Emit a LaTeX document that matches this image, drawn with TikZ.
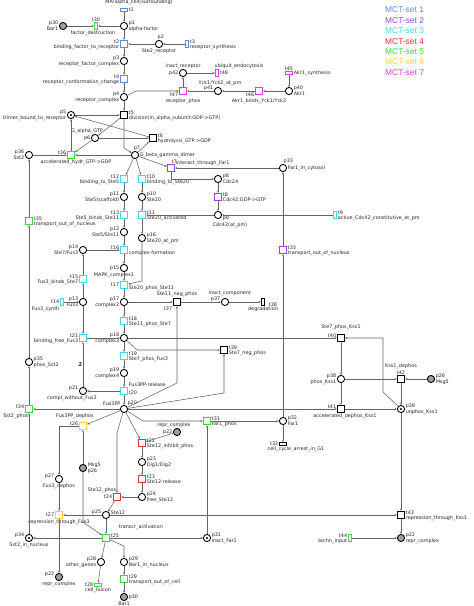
\documentclass[tikz,border=0pt]{standalone}
\usepackage{fontspec}
\setmainfont{DejaVu Sans}
\newfontfamily\legendfont{Liberation Sans}
\usetikzlibrary{arrows.meta}

\definecolor{mctA}{RGB}{90,140,235}
\definecolor{mctB}{RGB}{150,70,220}
\definecolor{mctC}{RGB}{60,220,230}
\definecolor{mctD}{RGB}{235,50,50}
\definecolor{mctE}{RGB}{60,215,60}
\definecolor{mctF}{RGB}{245,210,60}
\definecolor{mctG}{RGB}{225,60,225}
\definecolor{arcgray}{RGB}{100,100,100}

\tikzset{
  lb/.style={font=\fontsize{4.9}{5.5}\selectfont, inner sep=0.5pt, text=black!85},
  labNE/.style={label={[lb,anchor=south west]0:{#1}}},
  labSE/.style={label={[lb,anchor=north west]0:{#1}}},
  labNW/.style={label={[lb,anchor=south east]180:{#1}}},
  labSW/.style={label={[lb,anchor=north east]180:{#1}}},
  labN/.style={label={[lb,anchor=south]90:{#1}}},
  labS/.style={label={[lb,anchor=north]270:{#1}}},
  labE/.style={label={[lb,anchor=west]0:{#1}}},
  labW/.style={label={[lb,anchor=east]180:{#1}}},
  place/.style={circle, draw=black, line width=0.9pt, fill=white, minimum size=7.2pt, inner sep=0pt},
  pgrey/.style={place, fill=gray!75},
  ptok/.style={place, path picture={\fill[black] (path picture bounding box.center) circle (1.1pt);}},
  trans/.style={rectangle, draw=#1, line width=0.9pt, fill=white, minimum size=7.4pt, inner sep=0pt},
  transv/.style={trans=#1, minimum width=3.4pt, minimum height=7.2pt},
  transh/.style={trans=#1, minimum width=7.2pt, minimum height=3.4pt},
  arc/.style={draw=arcgray, line width=0.55pt, -{Stealth[length=2.4pt,width=2pt]}},
  legend/.style={font=\legendfont\fontsize{8.4}{9}\selectfont, anchor=west, inner sep=0pt},
}

\begin{document}
\begin{tikzpicture}[x=1pt,y=-1pt]
  \useasboundingbox (0,0) rectangle (474,606);

  % places
  \node[pgrey, labNW=p30, labSW=Bar1] (p30a) at (63,26) {};
  \node[place, labNE=p1, labSE=alpha-factor] (p1) at (124,26) {};
  \node[place, label={[lb,anchor=south west,xshift=-2pt]90:p2}, labS=Ste2\_receptor] (p2) at (159,44) {};
  \node[place, labNW=p3, labSW=receptor\_factor\_complex] (p3) at (124,61) {};
  \node[place, labNW=p4, labSW=receptor\_complex] (p4) at (124,97) {};
  \node[place, labN=inact\_receptor, labW=p42] (p42) at (183,73) {};
  \node[place, label={[lb,anchor=south,xshift=2pt,yshift=1pt]90:Yck1/Yck2\_at\_pm}, labNW=p41] (p41) at (218,91) {};
  \node[place, labNE=p40, labSE=Akr1] (p40) at (289,91) {};
  \node[ptok, labNW=p5, labSW=trimer\_bound\_to\_receptor] (p5) at (71,115) {};
  \node[place, label={[lb,anchor=south,xshift=-8pt]90:G\_alpha\_GTP}, labW=p6] (p6) at (95,138) {};
  \node[place, labNW=p36, labSW=Sst2] (p36) at (29,155) {};
  \node[place, label={[lb,anchor=south,xshift=2pt]90:p7}, labE=G\_beta\_gamma\_dimer] (p7) at (135,155) {};
  \node[place, labNE=p8, labSE=Cdc24] (p8) at (218,179) {};
  \node[place, labNW=p11, labSW=Ste5(scaffold)] (p11) at (124,197) {};
  \node[place, labNE=p10, labSE=Ste20] (p10) at (142,197) {};
  \node[place, label={[lb,anchor=south west]90:p33}, labE=Far1\_in\_cytosol] (p33) at (283,168) {};
  \node[place, labSE=p9, label={[lb,anchor=north,xshift=12pt,yshift=-3pt]270:Cdc42(at\_pm)}] (p9) at (218,215) {};
  \node[place, labNW=p12, labSW=Ste5/Ste11] (p12) at (124,232) {};
  \node[place, labNE=p16, labSE=Ste20\_at\_pm] (p16) at (142,238) {};
  \node[place, labNW=p14, labSW=Ste7/Fus3] (p14) at (83,250) {};
  \node[place, labW=p15, label={[lb,anchor=north,xshift=-10pt]270:MAPK\_complex1}] (p15) at (124,268) {};
  \node[place, labNW=p13, labSW=Fus3] (p13) at (83,302) {};
  \node[place, labNW=p17, labSW=complex2] (p17) at (124,302) {};
  \node[place, label={[lb,anchor=south west,xshift=-17pt,yshift=1.5pt]90:inact\_component}, labNW=p37] (p37) at (225,302) {};
  \node[place, labNW=p18, labSW=complex3] (p18) at (124,338) {};
  \node[place, labNE=p35, labSE=phos\_Sst2] (p35) at (29,362) {};
  \node[place, labNW=p19, labSW=complex4] (p19) at (124,373) {};
  \node[place, labNW=p21, label={[lb,anchor=north,xshift=-11pt]270:compl\_without\_Fus3}] (p21) at (83,391) {};
  \node[place, label={[lb,anchor=south east]135:Fus3PP}, label={[lb,anchor=south west]45:p20}] (p20) at (124,409) {};
  \node[place, labNW=p38, labSW=phos\_Kss1] (p38) at (341,379) {};
  \node[pgrey, labNE=p26, labSE=Msg5] (p26a) at (431,379) {};
  \node[ptok, labNE=p39, labSE=unphos\_Kss1] (p39) at (401,409) {};
  \node[place, labNE=p32, labSE=Far1] (p32) at (283,421) {};
  \node[pgrey, label={[lb,anchor=south,xshift=-3pt]90:repr\_complex}, labW=p22] (p22a) at (177,432) {};
  \node[place, labNE=p23, labSE=Dig1/Dig2] (p23) at (142,462) {};
  \node[pgrey, labNE=Msg5, labSE=p26] (p26b) at (83,468) {};
  \node[place, labNW=p27, labS=Fus3\_dephos] (p27) at (59,479) {};
  \node[place, labNE=p24, labSE=free\_Ste12] (p24) at (142,497) {};
  \node[place, labNW=p25, labNE=Ste12] (p25) at (106,515) {};
  \node[ptok, labNW=p34, labS=Sst2\_in\_nucleus] (p34) at (29,538) {};
  \node[ptok, labNE=p31, labSE=inact\_Far1] (p31) at (207,538) {};
  \node[pgrey, labNE=p22, labSE=repr\_complex] (p22b) at (401,538) {};
  \node[place, labNW=p28, labSW=other\_genes] (p28) at (101,562) {};
  \node[place, labNE=p29, labSE=Bar1\_in\_nucleus] (p29) at (124,562) {};
  \node[pgrey, labNW=p22, labS=repr\_complex] (p22c) at (59,577) {};
  \node[pgrey, labE=p30, labS=Bar1] (p30b) at (124,597) {};

  % transitions
  \node[transh=mctA, labE=t1, label={[lb,anchor=south,xshift=15pt,yshift=2pt]90:MA!alpha\_cell(surrounding)}] (t1) at (124,10) {};
  \node[transv=mctE, labN=t30, label={[lb,anchor=north,xshift=-3pt]270:factor\_destruction}] (t30) at (96,26) {};
  \node[trans=mctA, labNW=t2, labSW=binding\_factor\_to\_receptor] (t2) at (124,44) {};
  \node[transv=mctA, labNE=t3, labSE=receptor\_synthesis] (t3) at (187,44) {};
  \node[trans=mctA, labNW=t4, labSW=receptor\_conformation\_change] (t4) at (124,79) {};
  \node[transv=mctG, label={[lb,anchor=south west,xshift=-3pt]90:ubiquit\_endocytosis}, labE=t48] (t48) at (217,73) {};
  \node[trans=mctG, label={[lb,anchor=east]225:t47}, label={[lb,anchor=north,yshift=-2.5pt]270:receptor\_phos}] (t47) at (183,91) {};
  \node[transh=mctG, labN=t45, labE=Akr1\_synthesis] (t45) at (289,73) {};
  \node[trans=mctG, label={[lb,anchor=east]225:t46}, label={[lb,anchor=north,yshift=-2.5pt]270:Akr1\_binds\_Yck1/Yck2}] (t46) at (259,91) {};
  \node[trans=black, labNE=t5, labSE=division(in\_alpha\_subunit:GDP->GTP)] (t5) at (124,115) {};
  \node[trans=black, labNE=t6, labSE=hydrolysis\_GTP->GDP] (t6) at (153,138) {};
  \node[trans=mctE, labNW=t36, label={[lb,anchor=north west,xshift=-31pt]270:accelerated\_hydr\_GTP->GDP}] (t36) at (71,155) {};
  \node[trans=mctB, label={[lb,anchor=south west]90:t7}, label={[lb,anchor=south west,yshift=2pt]0:interact\_through\_Far1}] (t7) at (171,168) {};
  \node[trans=mctC, labNW=t12, labSW=binding\_to\_Ste5] (t12) at (124,179) {};
  \node[trans=mctC, labNE=t10, labSE=binding\_to\_Ste20] (t10) at (142,179) {};
  \node[trans=mctB, labNE=t8, labSE=Cdc42:GDP->GTP] (t8) at (218,197) {};
  \node[trans=mctC, labNW=t13, labSW=Ste5\_binds\_Ste11] (t13) at (124,215) {};
  \node[trans=mctC, labNE=t11, labSE=Ste20\_activated] (t11) at (142,215) {};
  \node[transv=mctC, labNE=t9, labSE=active\_Cdc42\_constitutive\_at\_pm] (t9) at (335,215) {};
  \node[trans=mctE, labNE=t35, labSE=transport\_out\_of\_nucleus] (t35) at (29,221) {};
  \node[trans=mctC, labNW=t16, labSE=complex-formation] (t16) at (124,250) {};
  \node[trans=mctB, labNE=t33, labSE=transport\_out\_of\_nucleus] (t33) at (283,250) {};
  \node[trans=mctC, labNW=t15, labSW=Fus3\_binds\_Ste7] (t15) at (83,279) {};
  \node[trans=mctC, labW=t17, labSE=Ste20\_phos\_Ste11] (t17) at (124,285) {};
  \node[transv=mctC, labW=t14, label={[lb,anchor=north east,xshift=-2pt]270:Fus3\_synth}] (t14) at (62,302) {};
  \node[trans=black, labN=Ste11\_neg\_phos, label={[lb,anchor=north east]225:t37}] (t37) at (177,302) {};
  \node[transv=black, label={[lb,anchor=north west,xshift=3pt]0:t38}, labS=degradation] (t38) at (263,302) {};
  \node[trans=mctC, labNE=t18, labSE=Ste11\_phos\_Ste7] (t18) at (124,321) {};
  \node[trans=mctC, labNW=t21, labSW=binding\_free\_Fus3] (t21) at (83,338) {};
  \node[trans=mctC, labNE=t19, labSE=Ste7\_phos\_Fus3] (t19) at (124,356) {};
  \node[trans=black, labNE=t39, labSE=Ste7\_neg\_phos] (t39) at (224,350) {};
  \node[trans=black, label={[lb,anchor=south,yshift=4pt]90:Ste7\_phos\_Kss1}, labNW=t40] (t40) at (341,338) {};
  \node[trans=mctC, label={[lb,anchor=south west,yshift=4pt]0:Fus3PP-release}, label={[lb,anchor=north west,yshift=1pt]0:t20}] (t20) at (124,391) {};
  \node[trans=black, label={[lb,anchor=south,yshift=6pt]90:Kss1\_dephos}, labN=t42] (t42) at (401,379) {};
  \node[trans=black, labNW=t41, label={[lb,anchor=north,xshift=4pt]270:accelerated\_dephos\_Kss1}] (t41) at (341,409) {};
  \node[trans=mctE, labNW=t34, label={[lb,anchor=north east]270:Sst2\_phos}] (t34) at (29,409) {};
  \node[trans=mctE, labNE=t31, labSE=Far1\_phos] (t31) at (207,421) {};
  \node[trans=mctF, label={[lb,anchor=south,xshift=-8pt,yshift=3pt]90:Fus3PP\_dephos}, labNW=t26] (t26) at (83,426) {};
  \node[trans=mctD, labNE=t22, labSE=Ste12\_inhibit\_phos] (t22) at (142,443) {};
  \node[transh=black, labW=t32, label={[lb,anchor=north west,xshift=-16pt]270:cell\_cycle\_arrest\_in\_G1}] (t32) at (283,444) {};
  \node[trans=mctD, labNE=t23, labSE=Ste12-release] (t23) at (142,479) {};
  \node[trans=mctD, label={[lb,anchor=south east]90:Ste12\_phos}, labW=t24] (t24) at (117,497) {};
  \node[trans=mctF, labW=t27, labS=repression\_through\_Fus3] (t27) at (59,515) {};
  \node[trans=black, labNE=t43, labSE=repression\_through\_Kss1] (t43) at (401,515) {};
  \node[trans=mctE, label={[lb,anchor=south west,xshift=8pt,yshift=4pt]45:transcr\_activation}, labNE=t25] (t25) at (106,538) {};
  \node[transv=mctE, labNW=t44, labSW=techn\_input] (t44) at (350,538) {};
  \node[transh=mctE, labW=t28, labS=cell\_fusion] (t28) at (98,585) {};
  \node[trans=mctE, labNE=t29, labSE=transport\_out\_of\_cell] (t29) at (124,579) {};

  % legend
  \foreach \i/\c in {1/mctA, 2/mctB, 3/mctC, 4/mctD, 5/mctE, 6/mctF, 7/mctG}
    \node[legend, text=\c] (leg\i) at (385, {10+(\i-1)*10.4}) {MCT-set \i};

  % arcs
  \draw[arc] (t1) -- (p1);
  \draw[arc] (p1) -- (t30);
  \draw[arc] (p30a) -- (t30);
  \draw[arc] (p1) -- (t2);
  \draw[arc] (p2) -- (t2);
  \draw[arc] (t3) -- (p2);
  \draw[arc] (t2) -- (p3);
  \draw[arc] (p3) -- (t4);
  \draw[arc] (t4) -- (p4);
  \draw[arc] (p4) -- (t5);
  \draw[arc] (p4) -- (136,91) -- (t47);
  \draw[arc] (p41) -- (t47);
  \draw[arc] (t47) -- (p42);
  \draw[arc] (p42) -- (t48);
  \draw[arc] (t46) -- (p41);
  \draw[arc] (p40) -- (t46);
  \draw[arc] (t45) -- (p40);
  \draw[arc] (p5) -- (t5);
  \draw[arc] (t5) -- (p6);
  \draw[arc] (t5) -- (124,148) -- (p7);
  \draw[arc] (p6) -- (t6);
  \draw[arc] (p7) -- (t6);
  \draw[arc] (t6) -- (p5);
  \draw[arc] (p6) -- (t36);
  \draw[arc] (p7) -- (t36);
  \draw[arc] (t36) -- (p5);
  \draw[arc] (p36) -- (t36);
  \draw[arc] (p7) -- (t7);
  \draw[arc] (p33) -- (t7);
  \draw[arc] (t7) -- (171,179) -- (p8);
  \draw[arc] (p8) -- (t8);
  \draw[arc] (t8) -- (p9);
  \draw[arc] (p7) -- (t12);
  \draw[arc] (p7) -- (t10);
  \draw[arc] (t12) -- (p11);
  \draw[arc] (t10) -- (p10);
  \draw[arc] (p11) -- (t13);
  \draw[arc] (p10) -- (t11);
  \draw[arc] (p9) -- (t11);
  \draw[arc] (t9) -- (p9);
  \draw[arc] (t13) -- (p12);
  \draw[arc] (t11) -- (p16);
  \draw[arc] (p12) -- (t16);
  \draw[arc] (p14) -- (t16);
  \draw[arc] (t16) -- (p15);
  \draw[arc] (p15) -- (t17);
  \draw[arc] (p16) -- (142,281) -- (t17);
  \draw[arc] (t17) -- (p17);
  \draw[arc] (t15) -- (p14);
  \draw[arc] (p13) -- (t15);
  \draw[arc] (t14) -- (p13);
  \draw[arc] (p17) -- (t37);
  \draw[arc] (t37) -- (p37);
  \draw[arc] (p37) -- (t38);
  \draw[arc] (p17) -- (t18);
  \draw[arc] (t18) -- (p18);
  \draw[arc] (p18) -- (t19);
  \draw[arc] (t19) -- (p19);
  \draw[arc] (p19) -- (t20);
  \draw[arc] (t20) -- (p20);
  \draw[arc] (t20) -- (p21);
  \draw[arc] (p21) -- node[lb, left, font=\fontsize{5.5}{6}\bfseries] {2} (t21);
  \draw[arc] (p13) -- (t21);
  \draw[arc] (t21) -- (p18);
  \draw[arc] (p18) -- (137,350) -- (t39);
  \draw[arc] (p18) -- (t40);
  \draw[arc] (p39) -- (383,392) -- (383,338) -- (t40);
  \draw[arc] (t40) -- (p38);
  \draw[arc] (p38) -- (t42);
  \draw[arc] (p26a) -- (t42);
  \draw[arc] (t42) -- (p39);
  \draw[arc] (p38) -- (t41);
  \draw[arc] (t41) -- (p39);
  \draw[arc] (p20) -- (177,383) -- (t37);
  \draw[arc] (p20) -- (224,393) -- (t39);
  \draw[arc] (p20) -- (t41);
  \draw[arc] (p20) -- (t34);
  \draw[arc] (p20) -- (t26);
  \draw[arc] (p20) -- (143,421) -- (t31);
  \draw[arc] (p20) -- (t22);
  \draw[arc] (p20) -- (117,433) -- (t24);
  \draw[arc] (t35) -- (p36);
  \draw[arc] (p35) -- (t35);
  \draw[arc] (t34) -- (p35);
  \draw[arc] (p34) -- (t34);
  \draw[arc] (t33) -- (p33);
  \draw[arc] (p32) -- (t33);
  \draw[arc] (p32) -- (t32);
  \draw[arc] (t31) -- (p32);
  \draw[arc] (p31) -- (t31);
  \draw[arc] (p22a) -- (t22);
  \draw[arc] (t22) -- (p23);
  \draw[arc] (p23) -- (t23);
  \draw[arc] (t23) -- (p24);
  \draw[arc] (p24) -- (t24);
  \draw[arc] (t24) -- (p25);
  \draw[arc] (p26b) -- (t26);
  \draw[arc] (t26) -- (59,426) -- (p27);
  \draw[arc] (p27) -- (t27);
  \draw[arc] (t27) -- (p22c);
  \draw[arc] (p25) -- (t27);
  \draw[arc] (p25) -- (t43);
  \draw[arc] (p25) -- (t25);
  \draw[arc] (p26b) -- (83,522) -- (t25);
  \draw[arc] (t25) -- (p34);
  \draw[arc] (t25) -- (p31);
  \draw[arc] (t25) -- (p28);
  \draw[arc] (t25) -- (124,546) -- (p29);
  \draw[arc] (p28) -- (t28);
  \draw[arc] (p29) -- (t29);
  \draw[arc] (t29) -- (p30b);
  \draw[arc] (p39) -- (t43);
  \draw[arc] (t43) -- (p22b);
  \draw[arc] (t44) -- (p22b);
\end{tikzpicture}
\end{document}
